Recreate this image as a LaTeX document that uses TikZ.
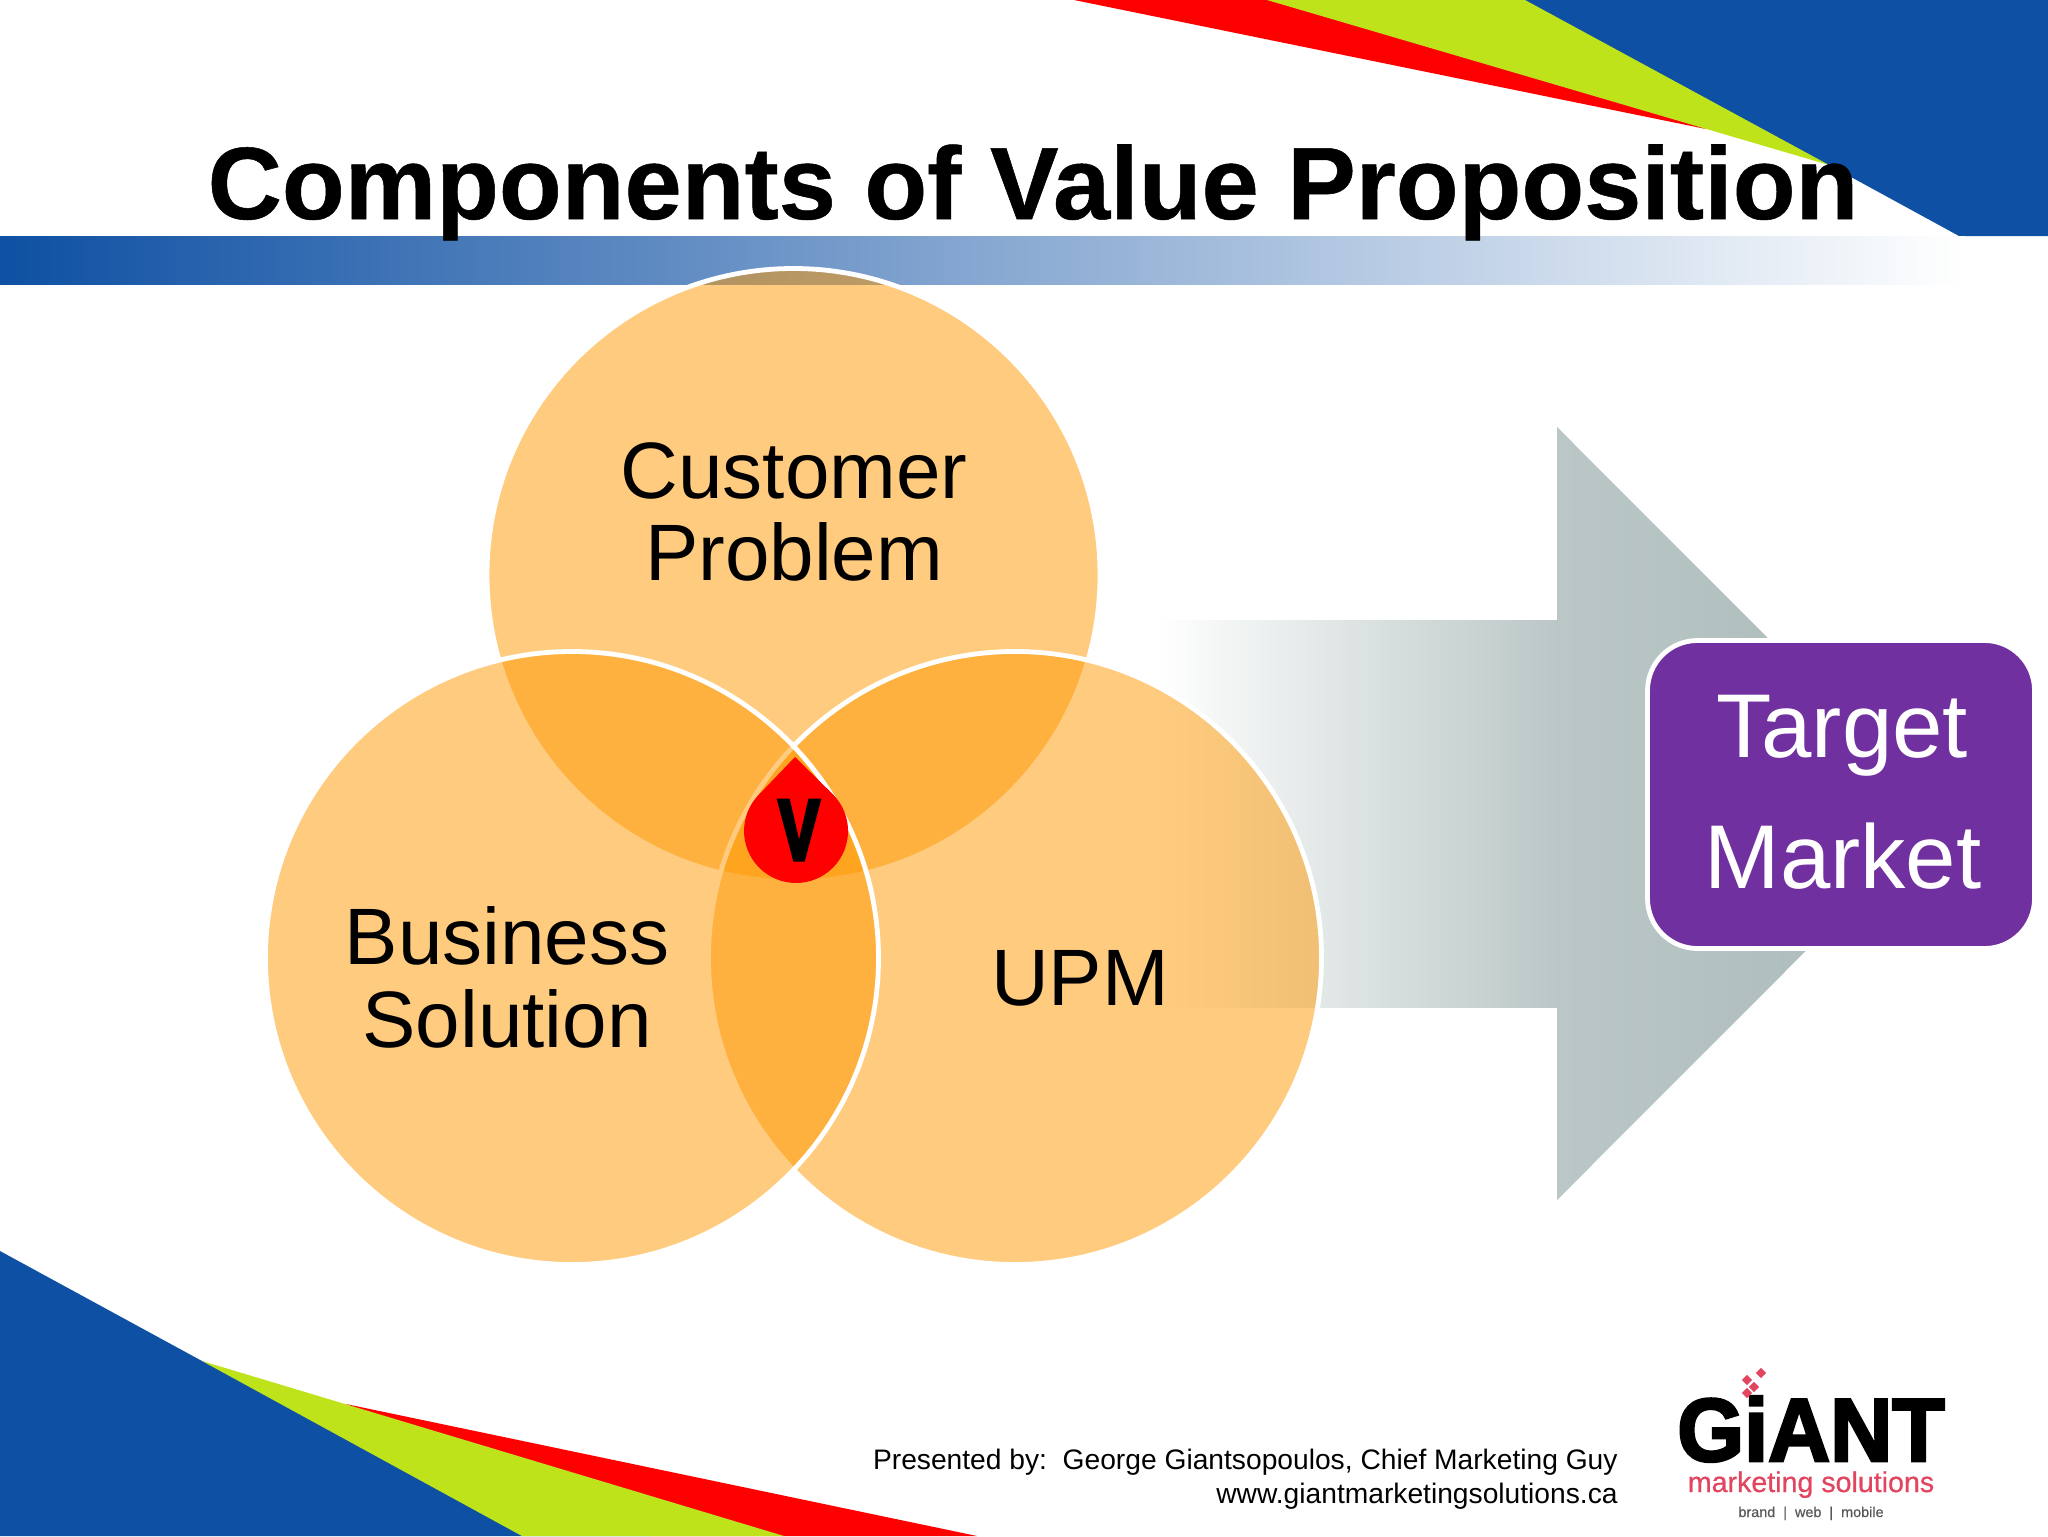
\documentclass[tikz,border=0pt]{standalone}
\usepackage{fontspec}
\setmainfont{Liberation Sans}
\newfontfamily\heavyfont[FakeBold=3]{Liberation Sans Bold}
\newfontfamily\blackfont[FakeBold=6]{Liberation Sans Bold}
\newfontfamily\midfont[FakeBold=0.6]{Liberation Sans}
\newfontfamily\titlefont[FakeBold=0.5]{Liberation Sans Bold}
\newcommand{\fsz}[1]{\fontsize{#1pt}{#1pt}\selectfont}
\definecolor{slideblue}{HTML}{0E50A3}
\definecolor{slidelime}{HTML}{BEE31B}
\definecolor{slidered}{HTML}{FF0000}
\definecolor{venn}{HTML}{FF9800}
\definecolor{arrowgrey}{HTML}{BAC7C6}
\definecolor{arrowgreyb}{HTML}{A9B9B9}
\definecolor{boxpurple}{HTML}{7030A0}
\definecolor{logored}{HTML}{E2455F}
\tikzset{
  venncircle/.style={fill=venn,fill opacity=.5,draw=white,draw opacity=1,line width=2.4pt},
  bigtext/.style={anchor=base,font=\fsz{40},text=black,inner sep=0pt},
  boxtext/.style={anchor=base,font=\fsz{45.3},text=white,inner sep=0pt},
  foot/.style={anchor=base east,font=\fsz{14.1},text=black,inner sep=0pt},
  logodot/.style={fill=logored,rotate=45,minimum size=3.6pt,inner sep=0pt}
}
\begin{document}
\begin{tikzpicture}[x=0.5pt,y=-0.5pt]
\useasboundingbox (0,0) rectangle (2048,1536);
\fill[white] (0,0) rectangle (2048,1536);
% top corner wedges
\fill[slideblue] (1450,0) -- (2048,0) -- (2048,236) -- (1959,236) -- (1829,165) -- cycle;
\fill[slidered] (1074,0) -- (1400,0) -- (1706,129) -- cycle;
\fill[slidelime] (1267,0) -- (1525,0) -- (1829,165) -- cycle;
% bottom corner wedges
\fill[slideblue] (0,1251) -- (202,1361) -- (650,1536) -- (0,1536) -- cycle;
\fill[slidered] (346,1404) -- (977,1536) -- (650,1536) -- cycle;
\fill[slidelime] (202,1361) -- (784,1536) -- (522,1536) -- cycle;
% band
\shade[left color=slideblue,right color=white] (0,236) rectangle (1965,284);
% arrow
\shade[left color=arrowgrey,right color=arrowgreyb] (1557,427) -- (1943,813.5) -- (1557,1200) -- cycle;
\shade[left color=white,right color=arrowgrey] (1157,620) rectangle (1558,1007);
% venn
\draw[venncircle] (793.5,575) circle[radius=306.5];
\draw[venncircle] (1015,958) circle[radius=306.5];
\draw[venncircle] (572,958) circle[radius=306.5];
% drop
\fill[slidered] (795,757) -- (833,794.4) arc[start angle=44.7,end angle=-224.7,radius=26pt] -- cycle;
\node[anchor=base,inner sep=0pt,text=black,xscale=.72,yscale=1] (vmark) at (799,859) {\blackfont\fsz{42}V};
% target box
\node[draw=white,line width=2.4pt,fill=boxpurple,rounded corners=25pt,minimum width=193.5pt,minimum height=154pt,inner sep=0pt] (targetbox) at (1841,794.5) {};
% labels
\node[font=\titlefont\fsz{51.4},anchor=base,inner sep=0pt] (title) at (1033,219) {Components of Value Proposition};
\node[bigtext] (cust) at (794,498) {Customer};
\node[bigtext] (prob) at (794,580) {Problem};
\node[bigtext] (busi) at (507,964) {Business};
\node[bigtext] (solu) at (507,1047) {Solution};
\node[bigtext] (upm) at (1080,1005) {UPM};
\node[boxtext] (targ) at (1842,757) {Target};
\node[boxtext] (mark) at (1843,888) {Market};
\node[foot] (foot1) at (1618,1469) {Presented by:\ \ George Giantsopoulos, Chief Marketing Guy};
\node[foot] (foot2) at (1618,1503) {www.giantmarketingsolutions.ca};
% logo
\node[anchor=base,inner sep=0pt,text=black,yscale=1.04] (giant) at (1811,1461) {\heavyfont\fsz{43}GiANT};
\node[anchor=base,inner sep=0pt,text=logored] (mkt) at (1811,1492) {\midfont\fsz{14.3}marketing solutions};
\node[anchor=base,inner sep=0pt,text=black!65] (brand) at (1811,1517) {\midfont\fsz{7.2}brand\ \ |\ \ web\ \ |\ \ mobile};
\node[logodot] (d1) at (1747,1380) {};
\node[logodot] (d2) at (1754,1387) {};
\node[logodot] (d3) at (1747,1393) {};
\node[logodot] (d4) at (1761,1373) {};
\end{tikzpicture}
\end{document}
